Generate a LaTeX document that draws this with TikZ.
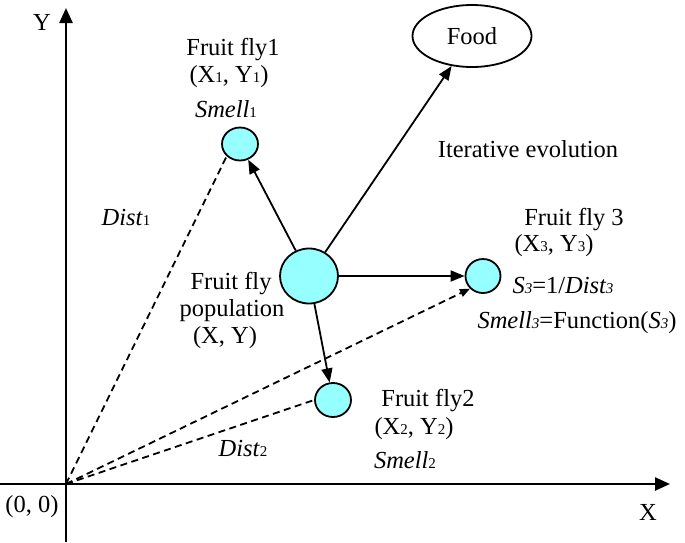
\documentclass[tikz,border=0pt]{standalone}
\usepackage{fontspec}
\setmainfont{Liberation Serif}
\usetikzlibrary{arrows.meta,shapes.geometric}
\definecolor{flycyan}{RGB}{150,255,255}
\newcommand{\smsub}[1]{{\fontsize{15pt}{15pt}\selectfont #1}}
\begin{document}
\begin{tikzpicture}[x=1pt,y=-1pt,
  lbl/.style={font=\fontsize{24.5pt}{26pt}\selectfont, inner sep=0pt},
  fly/.style={ellipse, draw, line width=1.8pt, fill=flycyan, inner sep=0pt},
  axis/.style={line width=2.5pt, -{Triangle[length=15pt,width=13pt]}},
  conn/.style={line width=1.8pt, -{Triangle[length=14pt,width=11pt]}},
  dconn/.style={line width=1.8pt, dash pattern=on 7pt off 4.5pt},
]
\useasboundingbox (0,0) rectangle (685,542);
% axes
\coordinate (yb) at (66,542);
\coordinate (yt) at (66,8);
\coordinate (xl) at (0,484);
\coordinate (xr) at (670,484);
\coordinate (O) at (66,484);
\draw[axis] (yb) -- (yt);
\draw[axis] (xl) -- (xr);
\node[lbl] (ylab) at (42,22) {Y};
\node[lbl] (xlab) at (648,512) {X};
\node[lbl] (olab) at (32,507) {(0, 0)};
% nodes
\node[fly, minimum width=36pt, minimum height=33pt] (f1) at (240,144) {};
\node[fly, minimum width=58pt, minimum height=55pt] (pop) at (309,276) {};
\node[fly, minimum width=35pt, minimum height=34pt] (f3) at (483,276) {};
\node[fly, minimum width=36pt, minimum height=34pt] (f2) at (333,400) {};
\node[ellipse, draw, line width=1.8pt, minimum width=119pt, minimum height=62pt, lbl] (food) at (472,36) {Food};
% arrows
\draw[conn] (pop) -- (f1);
\draw[conn] (pop) -- (food);
\draw[conn] (pop.east) -- (f3.west);
\draw[conn] (pop) -- (f2);
% dashed
\draw[dconn] (O) -- (f1.south west);
\draw[dconn, -{Triangle[length=10pt,width=8pt]}] (O) -- (f3.south west);
\draw[dconn] (O) -- (f2.west);
% labels
\node[lbl] (t1a) at (233,50) {Fruit fly1};
\node[lbl] (t1b) at (229,77) {(X\smsub{1}, Y\smsub{1})};
\node[lbl] (t1c) at (226,109) {\textit{Smell}\smsub{1}};
\node[lbl] (d1) at (126,218) {\textit{Dist}\smsub{1}};
\node[lbl] (it) at (528,149) {Iterative evolution};
\node[lbl] (t3a) at (574,220) {Fruit fly 3};
\node[lbl] (t3b) at (554,246) {(X\smsub{3}, Y\smsub{3})};
\node[lbl] (t3c) at (563,285) {\textit{S\smsub{3}}=1/\textit{Dist\smsub{3}}};
\node[lbl] (t3d) at (577,323) {\textit{Smell\smsub{3}}=Function(\textit{S\smsub{3}})};
\node[lbl] (pa) at (231,284) {Fruit fly};
\node[lbl] (pb) at (232,311) {population};
\node[lbl] (pc) at (225,338) {(X, Y)};
\node[lbl] (t2a) at (428,401) {Fruit fly2};
\node[lbl] (t2b) at (414,429) {(X\smsub{2}, Y\smsub{2})};
\node[lbl] (t2c) at (405,460) {\textit{Smell}\smsub{2}};
\node[lbl] (d2) at (243,448) {\textit{Dist}\smsub{2}};
\end{tikzpicture}
\end{document}
